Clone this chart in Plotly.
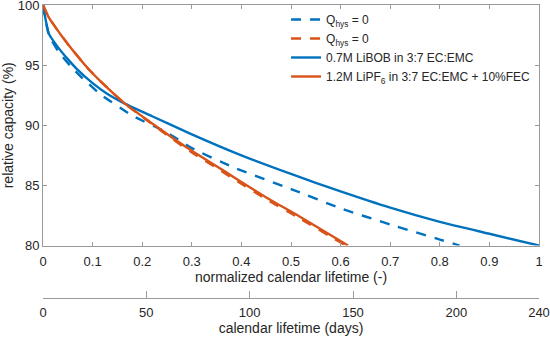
import plotly.graph_objects as go

# ---- data ----
libob_x = [0, 0.012, 0.03, 0.05, 0.07, 0.1, 0.13, 0.165, 0.22, 0.3, 0.4, 0.5, 0.6, 0.7, 0.8, 0.9, 1.0]
libob_y = [100, 97.6, 96.5, 95.5, 94.6, 93.5, 92.6, 91.8, 90.75, 89.25, 87.5, 85.95, 84.5, 83.15, 81.97, 80.98, 80.0]

libob_hys0_x = [0, 0.012, 0.03, 0.057, 0.08, 0.115, 0.18, 0.25, 0.3, 0.384, 0.5, 0.6, 0.7, 0.8, 0.84]
libob_hys0_y = [100, 97.5, 96.2, 94.85, 93.9, 92.6, 90.8, 89.4, 88.1, 86.5, 84.7, 83.1, 81.75, 80.5, 80.0]

lipf6_x = [0, 0.01, 0.02, 0.05, 0.094, 0.13, 0.165, 0.215, 0.263, 0.303, 0.35, 0.384, 0.45, 0.518, 0.615]
lipf6_y = [100, 99.1, 98.45, 96.75, 94.57, 93.1, 91.8, 90.3, 88.9, 87.8, 86.6, 85.7, 84.0, 82.4, 80.0]

lipf6_hys0_x = [0, 0.01, 0.02, 0.05, 0.094, 0.13, 0.165, 0.215, 0.263, 0.303, 0.35, 0.384, 0.45, 0.518, 0.61]
lipf6_hys0_y = [100, 99.1, 98.45, 96.75, 94.57, 93.1, 91.8, 90.25, 88.8, 87.65, 86.45, 85.55, 83.85, 82.25, 80.0]

days_ticks = [0, 50, 100, 150, 200, 240]
total_days = 240

BLUE = "#0072BD"
ORANGE = "#D95319"
FONT = "Liberation Sans, Arial, sans-serif"
AXC = "#9a9a9a"
TXT = "#262626"
LW = 2.4
DASH = "10px,9px"

fig = go.Figure()
fig.add_trace(go.Scatter(x=libob_hys0_x, y=libob_hys0_y, mode="lines",
                         line=dict(color=BLUE, width=LW, dash=DASH, shape="spline", smoothing=0.5),
                         name="Q<sub>hys</sub> = 0"))
fig.add_trace(go.Scatter(x=lipf6_hys0_x, y=lipf6_hys0_y, mode="lines",
                         line=dict(color=ORANGE, width=LW, dash=DASH, shape="spline", smoothing=0.5),
                         name="Q<sub>hys</sub> = 0"))
fig.add_trace(go.Scatter(x=libob_x, y=libob_y, mode="lines",
                         line=dict(color=BLUE, width=LW, shape="spline", smoothing=0.5),
                         name="0.7M LiBOB in 3:7 EC:EMC"))
fig.add_trace(go.Scatter(x=lipf6_x, y=lipf6_y, mode="lines",
                         line=dict(color=ORANGE, width=LW, shape="spline", smoothing=0.5),
                         name="1.2M LiPF<sub>6</sub> in 3:7 EC:EMC + 10%FEC"))
# invisible trace to carry the calendar-days axis
fig.add_trace(go.Scatter(x=[0, total_days], y=[None, None], xaxis="x2", yaxis="y",
                         mode="lines", showlegend=False, hoverinfo="skip"))

fig.update_layout(
    width=550, height=338,
    margin=dict(l=43, r=11, t=5, b=40, autoexpand=False),
    paper_bgcolor="white", plot_bgcolor="white",
    font=dict(family=FONT, size=13, color=TXT),
    showlegend=True,
    legend=dict(x=0.49, y=1.0, xanchor="left", yanchor="top",
                bgcolor="rgba(0,0,0,0)", borderwidth=0,
                font=dict(size=12, color=TXT), itemwidth=30,
                tracegroupgap=0),
    xaxis=dict(range=[0, 1], dtick=0.1, tick0=0, anchor="y", automargin=False,
               showline=True, linecolor=AXC, linewidth=1, mirror="ticks",
               ticks="inside", ticklen=4, tickcolor=AXC, showgrid=False, zeroline=False,
               ticklabelstandoff=4, ticklabeloverflow="allow",
               tickfont=dict(size=13),
               title=dict(text="normalized calendar lifetime (-)", standoff=4,
                          font=dict(size=14, color=TXT))),
    yaxis=dict(range=[80, 100], dtick=5, domain=[0.179, 1], automargin=False,
               showline=True, linecolor=AXC, linewidth=1, mirror="ticks",
               ticks="inside", ticklen=4, tickcolor=AXC, showgrid=False, zeroline=False,
               ticklabeloverflow="allow", tickfont=dict(size=13),
               title=dict(text="relative capacity (%)", standoff=6,
                          font=dict(size=14, color=TXT))),
    xaxis2=dict(range=[0, total_days], tickvals=days_ticks, overlaying="x",
                anchor="free", position=0, side="bottom", automargin=False,
                showline=True, linecolor=AXC, linewidth=1,
                ticks="inside", ticklen=7, tickcolor=AXC, showgrid=False, zeroline=False,
                ticklabelstandoff=2, ticklabeloverflow="allow", tickfont=dict(size=13),
                title=dict(text="calendar lifetime (days)", standoff=3,
                           font=dict(size=14, color=TXT))),
)

fig.write_html("out.html", config={"displayModeBar": False},
               post_script="document.body.style.margin='0';document.body.style.overflow='hidden';")
